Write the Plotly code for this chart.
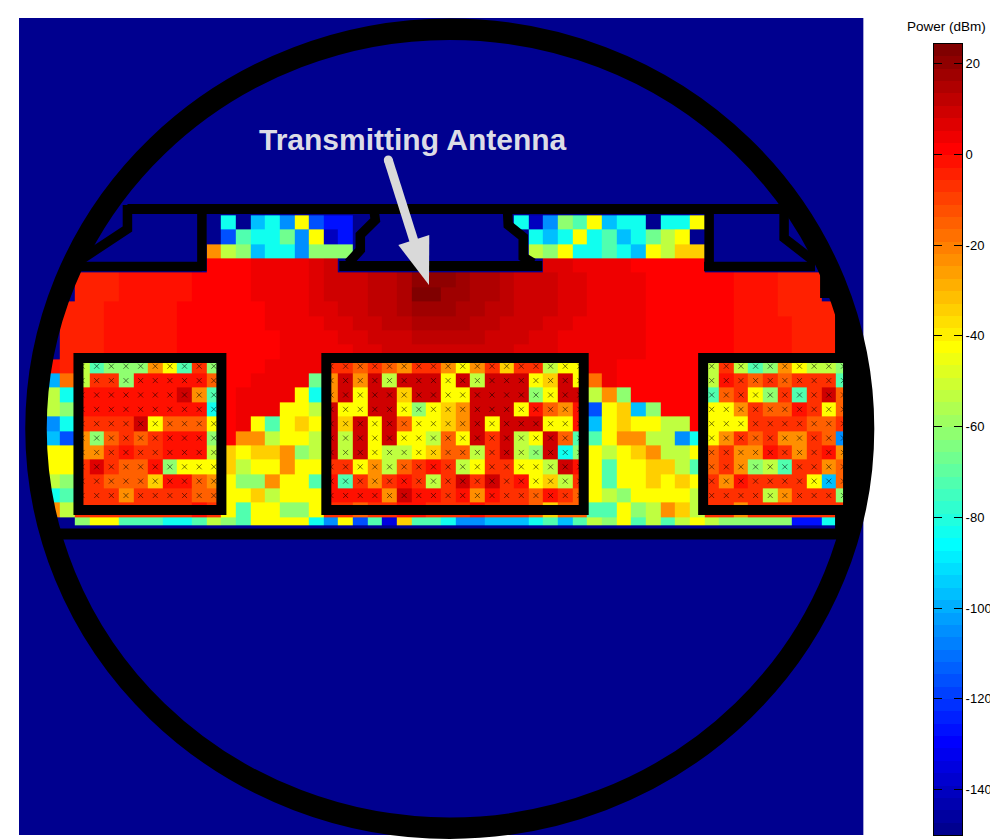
"""Indoor propagation map: received power over a floor plan, with a transmitting antenna."""

import numpy as np
import plotly.graph_objects as go

# Power levels (dBm)
BG = -149
b = -128
a = -106
s = -97
c = -84
t = -73
g = -62
l = -52
y = -42
o = -33
O = -24
D = -14
R = -6
r = -1
d = 9

ROW_00 = [BG]*13 + [c, BG, s, c, a, y, -115, b, b] + [BG]*11 + [c, -140, a, g, t, y, s, c, c, BG, c, c, y] + [BG]*10
ROW_01 = [BG]*13 + [-115, t, c, c, -68, a, y, -140, b] + [BG]*12 + [c, s, c, y, c, t, s, c, -68, l, y, BG] + [BG]*10
ROW_02 = [BG]*12 + [O, l, g, s, c, c, a, g, g, g] + [BG]*12 + [l, g, y, c, c, t, c, s, y, l, o, o] + [BG]*10
ROW_03 = [BG]*12 + [0, 1, 1, 3, 4, 4, 5, 6, 8] + [BG]*14 + [7, 6, 5, 4, 3, 3, 2, 2, 1, 1, 0] + [BG]*10
ROW_04 = [BG]*3 + [-4, -4, -4, -2, -2, -1, -1, -1, 0, 0, 1, 1, 3, 4, 4, 5, 6, 8, 9, 10, 11, 12, 14, 19, 21, 20,
                   18, 15, 14, 12, 10, 9, 8, 7, 6, 5, 4, 3, 3, 2, 2, 1, 1, 0, 0, -1, -1, -2, -3, -4, -4] + [BG]*2
ROW_05 = [BG]*3 + [-5, -5, -5, -2, -2, -1, -1, -1, 0, 0, 1, 1, 3, 4, 4, 5, 6, 8, 9, 10, 12, 13, 16, 22, 22, 18,
                   17, 15, 14, 12, 10, 9, 8, 7, 6, 5, 4, 3, 3, 2, 2, 1, 1, 0, 0, -1, -1, -2, -3, -4, -4] + [BG]*2
ROW_06 = [BG]*2 + [-4, -4, -3, -2, -2, -1, -1, -1, 0, 0, 0, 1, 1, 2, 3, 4, 5, 6, 7, 8, 10, 11, 12, 14, 17, 18, 17,
                   16, 14, 13, 11, 10, 9, 8, 7, 6, 5, 4, 3, 3, 2, 2, 1, 1, 0, 0, -1, -1, -2, -3, -4, -4, -5] + [BG]
ROW_07 = [BG]*2 + [-5, -4, -3, -2, -2, -1, -1, -1, 0, 0, 0, 1, 1, 2, 3, 3, 4, 5, 6, 7, 8, 10, 11, 12, 14, 15, 15,
                   14, 13, 12, 10, 9, 8, 7, 6, 5, 4, 4, 3, 3, 2, 2, 1, 1, 0, 0, -1, -1, -2, -2, -3, -4, -4] + [BG]
ROW_08 = [BG]*2 + [-4, -4, -3, -2, -2, -1, -1, -1, 0, 0, 0, 1, 1, 2, 2, 3, 3, 4, 5, 6, 7, 8, 9, 10, 11, 12, 12,
                   12, 11, 10, 9, 8, 7, 6, 5, 5, 4, 4, 3, 3, 2, 2, 1, 1, 0, 0, -1, -1, -2, -2, -3, -4, -4] + [BG]
ROW_09 = [BG]*2 + [-4, -3, -3, -2, -2, -1, -1, -1, 0, 0, 0, 1, 1, 2, 2, 3, 3, 4, 4, 5, 6, 7, 8, 8, 9, 10, 10,
                   10, 9, 8, 8, 7, 6, 6, 5, 4, 4, 3, 3, 3, 2, 2, 1, 1, 0, 0, -1, -1, -2, -2, -3, -3, -4] + [BG]
ROW_10 = [BG, -2, -3, l, t, g, g, g, O, y, t, R, g, 1, 1, 2, 3, 3, 4, 5,
          R, R, D, R, D, O, R, R, O, y, O, R, o, R, R, l, y, y, 3, 3, 2, 2, 1, 1, 1, 0,
          l, R, l, t, g, O, y, l, l, g]
ROW_11 = [BG, -100, -18, l, R, R, g, r, r, r, r, r, D, 2, 2, 3, 4, 4, 5, -68,
          O, d, O, d, l, d, d, d, y, d, l, d, d, d, y, o, d, y, -18, 3, 2, 2, 2, 1, 1, 1,
          l, r, R, D, R, D, R, R, R, t]
ROW_12 = [BG, l, c, r, r, r, r, r, r, r, d, O, t, 2, 3, 3, 4, 5, y, c,
          O, d, y, d, d, o, d, d, y, y, d, d, d, d, g, y, d, d, l, O, g, 2, 2, 1, 1, 1,
          t, D, R, y, g, R, t, R, d, D]
ROW_13 = [BG, l, g, r, r, r, r, r, r, r, r, r, c, 2, 3, 3, 4, y, y, l,
          d, y, y, d, d, y, g, y, o, O, d, d, d, y, r, D, O, r, -115, y, o, s, g, 2, 1, 1,
          y, y, O, R, D, D, r, R, y, D]
ROW_14 = [BG, a, c, R, R, R, R, d, y, D, D, D, y, 2, 3, y, t, y, o, y,
          d, o, d, y, d, D, y, y, o, O, d, y, d, d, d, y, y, r, s, y, o, y, y, l, l, 1,
          y, y, y, R, R, R, R, D, D, R]
ROW_15 = [BG, s, -115, O, g, D, R, D, R, r, r, r, g, 2, O, O, l, y, y, l,
          d, l, d, y, d, y, y, l, D, y, d, R, d, l, y, d, D, t, t, y, O, O, l, l, a, c,
          y, O, R, D, R, O, O, R, D, a]
ROW_16 = [BG, y, y, O, O, R, r, R, R, r, r, r, l, o, y, o, o, O, g, l,
          d, l, d, y, l, l, y, o, D, D, l, R, d, l, g, d, c, g, y, l, y, o, O, l, l, y,
          D, R, O, O, r, R, O, R, r, O]
ROW_17 = [BG, y, y, R, 6, R, D, D, r, g, y, y, y, o, l, y, y, O, y, y,
          R, R, y, O, l, D, R, r, R, l, y, R, R, y, y, l, d, r, y, t, y, y, o, o, l, t,
          D, R, O, g, l, t, R, R, O, D]
ROW_18 = [BG, l, g, R, R, D, D, D, o, r, r, D, O, y, g, g, O, y, y, t,
          r, t, R, O, R, r, R, l, R, d, R, d, R, r, y, o, l, R, y, t, y, y, o, y, o, y,
          R, O, r, R, R, R, R, y, s, D]
ROW_19 = [BG, c, t, R, R, R, O, R, R, R, R, D, D, y, y, o, l, y, y, y,
          r, r, r, r, O, d, r, r, R, r, O, r, R, R, D, r, R, D, y, l, g, y, y, y, y, l,
          R, R, R, R, l, O, R, R, R, g]
ROW_20 = [BG, O, l, R, R, R, R, R, R, R, R, r, R, y, t, y, y, g, g, y,
          R, R, D, R, R, r, r, R, R, R, r, R, R, R, D, o, D, D, t, t, y, g, l, O, o, l,
          R, R, O, R, R, R, R, R, R, R]
ROW_21 = [BG, BG, BG, g, y, y, t, t, t, c, c, t, l, g, t, y, y, y, y, c, a,
          y, -115, t, -135, o, t, t, c, a, a, s, s, s, c, t, s, t, l, g, y, t, l, t, l, y,
          l, g, g, g, g, g, b, b, c, BG]

POWER_ROWS = [
    ROW_00, ROW_01, ROW_02, ROW_03, ROW_04, ROW_05, ROW_06, ROW_07, ROW_08, ROW_09, ROW_10,
    ROW_11, ROW_12, ROW_13, ROW_14, ROW_15, ROW_16, ROW_17, ROW_18, ROW_19, ROW_20, ROW_21,
]

TICK_VALUES = [20, 0, -20, -40, -60, -80, -100, -120, -140]
TICK_LABELS = ["20", "0", "-20", "-40", "-60", "-80", "-100", "-120", "-140"]

# Columns with measurement crosses, one range per room
ROOM_COLUMNS = [range(3, 13), range(20, 38), range(46, 56)]
ROOM_ROWS = range(10, 21)

Z_MIN, Z_MAX = -150, 24.3
N_LEVELS = 64

FONT = "Liberation Sans, Arial, sans-serif"
ARROW_GREY = "#D9D9D9"

# Pixel frame of the plotting area
LEFT, RIGHT, TOP, BOTTOM = 18.5, 962, 18, 835
MAP_RIGHT = 863.3
BAR_LEFT, BAR_TOP = 934, 44
CELL_W, CELL_H = 14.65, 14.37
GRID_X0, GRID_Y0 = 30.3, 215.33


def px(x):
    return (x - LEFT) / (RIGHT - LEFT)


def py(y):
    return (BOTTOM - y) / (BOTTOM - TOP)


def svg_path(points):
    return "M " + " L ".join(f"{px(x):.5f},{py(y):.5f}" for x, y in points)


def wall(points, width=9.5, color="black"):
    return dict(type="path", path=svg_path(points), xref="paper", yref="paper",
                line=dict(color=color, width=width), layer="above")


def jet_scale(n):
    scale = []
    for i in range(n):
        v = (i + 1) / n
        rgb = [np.clip(min(4 * v - o_, -4 * v + e), 0, 1)
               for o_, e in ((1.5, 4.5), (0.5, 3.5), (-0.5, 2.5))]
        col = "rgb({},{},{})".format(*[round(255 * ch) for ch in rgb])
        scale += [[i / n, col], [(i + 1) / n, col]]
    return scale


JET = jet_scale(N_LEVELS)

fig = go.Figure()

col_edges = list(range(57))
row_edges = list(range(22)) + [21.55]
fig.add_trace(go.Heatmap(
    z=POWER_ROWS, x=col_edges, y=row_edges,
    zmin=Z_MIN, zmax=Z_MAX, colorscale=JET, showscale=False,
    hovertemplate="%{z} dBm<extra></extra>",
))

# Crosses on the measured cells inside the rooms
cross_x = [k + 0.5 for cols in ROOM_COLUMNS for _ in ROOM_ROWS for k in cols]
cross_y = [j + 0.5 for cols in ROOM_COLUMNS for j in ROOM_ROWS for _ in cols]
fig.add_trace(go.Scatter(
    x=cross_x, y=cross_y, mode="markers", hoverinfo="skip", showlegend=False,
    marker=dict(symbol="x-thin", size=5, color="black", opacity=0.75, line=dict(color="black", width=0.7)),
))

# Colour bar, as its own small axes so ticks show on both sides
bar_edges = np.linspace(Z_MIN, Z_MAX, N_LEVELS + 1)
bar_mid = (bar_edges[:-1] + bar_edges[1:]) / 2
fig.add_trace(go.Heatmap(
    z=[[v] for v in bar_mid], x=[0, 1], y=bar_edges,
    zmin=Z_MIN, zmax=Z_MAX, colorscale=JET, showscale=False,
    xaxis="x2", yaxis="y2", hoverinfo="skip",
))

shapes = [
    # outer ring
    dict(type="circle", xref="paper", yref="paper", layer="above",
         x0=px(449.5 - 414), x1=px(449.5 + 414), y0=py(428.7 + 399.5), y1=py(428.7 - 399.5),
         line=dict(color="black", width=21.5)),
    # upper building outline
    wall([(80, 266.5), (201.5, 266.5)]),
    wall([(201.5, 209), (201.5, 271)]),
    wall([(127, 209), (784, 209)], 10),
    wall([(127, 205), (127, 229), (83, 258)]),
    wall([(373, 205), (375, 220), (360, 235), (360, 250), (348, 263)]),
    wall([(339, 266), (542, 266)], 10),
    wall([(507, 205), (508, 225), (523, 237), (523, 257), (533, 263)]),
    wall([(709, 209), (709, 271)]),
    wall([(704, 266.5), (815, 266.5)]),
    wall([(784, 205), (784, 238), (815, 262)]),
    wall([(827, 272), (827, 298)], 14),
    wall([(843, 296), (843, 360)], 16),
    wall([(844, 505), (844, 530)], 18),
    # rooms
    wall([(78, 358), (221, 358), (221, 510), (78, 510), (78, 353)], 10),
    wall([(326, 358), (583.5, 358), (583.5, 510), (326, 510), (326, 353)], 10),
    wall([(850, 358), (703, 358), (703, 510), (850, 510)], 10),
    wall([(848, 358), (848, 510)], 10),
    # floor line
    wall([(50, 534), (850, 534)], 11),
    # arrow to the antenna
    wall([(388, 160), (414, 242)], 9, ARROW_GREY),
    dict(type="circle", xref="paper", yref="paper", layer="above", fillcolor=ARROW_GREY, line_width=0,
         x0=px(383.5), x1=px(392.5), y0=py(164.5), y1=py(155.5)),
    dict(type="path", xref="paper", yref="paper", layer="above", fillcolor=ARROW_GREY, line_width=0,
         path=svg_path([(398, 245), (429, 235), (428.7, 285)]) + " Z"),
    # reference is cropped just past the tick labels
    dict(type="rect", xref="paper", yref="paper", layer="above",
         x0=px(990), x1=px(1000), y0=py(840), y1=py(0), fillcolor="white", line_width=0),
]

annotations = [
    dict(text="<b>Transmitting Antenna</b>", xref="paper", yref="paper", x=px(413), y=py(140),
         xanchor="center", yanchor="middle", showarrow=False,
         font=dict(family=FONT, size=30, color="#DCDCE6")),
    dict(text="Power (dBm)", xref="paper", yref="paper", x=px(946), y=py(27),
         xanchor="center", yanchor="middle", showarrow=False,
         font=dict(family=FONT, size=13.5, color="black")),
]

map_frac = (MAP_RIGHT - LEFT) / (RIGHT - LEFT)

fig.update_layout(
    width=1000, height=840, autosize=False,
    margin=dict(l=LEFT, r=1000 - RIGHT, t=TOP, b=840 - BOTTOM, pad=0),
    paper_bgcolor="white", plot_bgcolor="#00008F",
    showlegend=False,
    shapes=shapes, annotations=annotations,
    xaxis=dict(domain=[0, map_frac], visible=False,
               range=[(LEFT - GRID_X0) / CELL_W, (MAP_RIGHT - GRID_X0) / CELL_W]),
    yaxis=dict(domain=[0, 1], visible=False,
               range=[(BOTTOM - GRID_Y0) / CELL_H, (TOP - GRID_Y0) / CELL_H]),
    xaxis2=dict(domain=[px(BAR_LEFT), 1], anchor="y2", range=[0, 1], showticklabels=False, ticks="",
                showgrid=False, zeroline=False, showline=True, linecolor="black", linewidth=1, mirror=True),
    yaxis2=dict(domain=[0, py(BAR_TOP)], anchor="x2", side="right", range=[Z_MIN, Z_MAX],
                tickvals=TICK_VALUES, ticktext=TICK_LABELS, ticks="inside", ticklen=8, tickcolor="black",
                tickwidth=1, tickfont=dict(family=FONT, size=13, color="black"),
                showgrid=False, zeroline=False, showline=True, linecolor="black", linewidth=1, mirror="allticks"),
)

fig.write_html("out.html", config={"displayModeBar": False},
               post_script="document.body.style.margin='0';")
